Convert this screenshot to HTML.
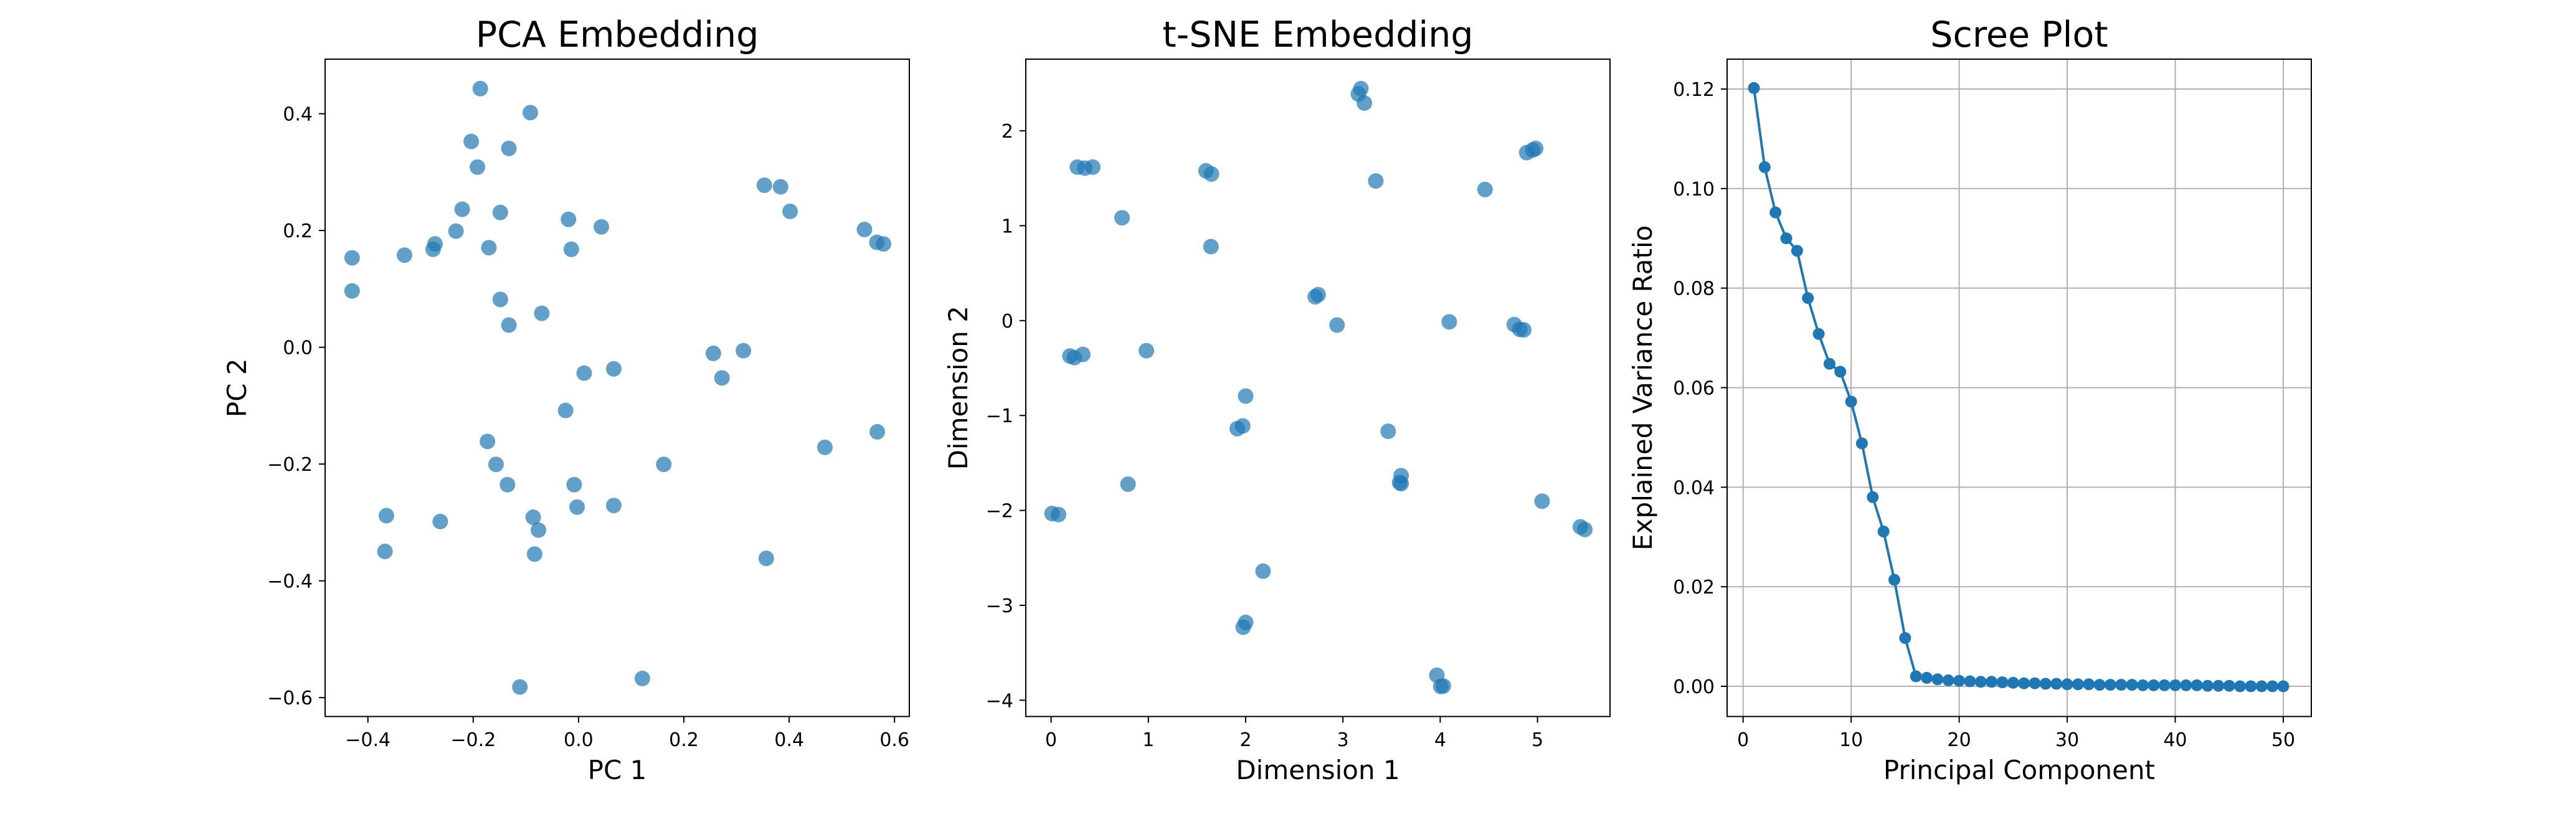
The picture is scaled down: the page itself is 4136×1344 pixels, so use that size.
<!DOCTYPE html>
<html><head><meta charset="utf-8"><style>
html,body{margin:0;padding:0;background:#fff;}
svg{display:block;font-family:"DejaVu Sans","Liberation Sans",sans-serif;}
</style></head><body>
<svg id="s" width="4136" height="1344" xmlns="http://www.w3.org/2000/svg"></svg>
<script>
(function(){
const s=document.getElementById('s');let h='';
const T=(x,y,t,sz,anc,extra)=>{h+=`<text x="${x}" y="${y}" font-size="${sz}" text-anchor="${anc||'middle'}" fill="#000" ${extra||''}>${t}</text>`;};
const L=(x1,y1,x2,y2,c,w)=>{h+=`<line x1="${x1}" y1="${y1}" x2="${x2}" y2="${y2}" stroke="${c}" stroke-width="${w}"/>`;};
const TOP=95,BOT=1150.5;
const fmt=v=>v<0?'−'+String(-v):String(v);
function axes(l,r,title,xl,yl,ylx,xt,yt){
  T((l+r)/2,75,title,57);
  T((l+r)/2,1251,xl,42);
  T(0,0,yl,42,'middle',`transform="translate(${ylx},${(TOP+BOT)/2}) rotate(-90)"`);
  xt.forEach(([px,lab])=>{L(px,BOT,px,BOT+10,'#000',2);T(px,1198,lab,30);});
  yt.forEach(([py,lab])=>{L(l-10,py,l,py,'#000',2);T(l-20,py+11,lab,30,'end');});
}
function frame(l,r){h+=`<rect x="${l}" y="${TOP}" width="${r-l}" height="${BOT-TOP}" fill="none" stroke="#000" stroke-width="2"/>`;}
// PCA
{const l=522,r=1460;
 const xp=v=>590.7+(v+0.4)*845.5, yp=v=>182.6+(0.4-v)*937.6;
 const yt=[0.4,0.2,0,-0.2,-0.4,-0.6].map(v=>[yp(v),(v<0?'−':'')+Math.abs(v).toFixed(1)]);
 const xt=[-0.4,-0.2,0,0.2,0.4,0.6].map(v=>[xp(v),(v<0?'−':'')+Math.abs(v).toFixed(1)]);
 axes(l,r,'PCA Embedding','PC 1','PC 2',395,xt,yt);
 const P=[[485,166],[590,211],[466,265],[545,278],[479,313],[1081,347],[1115,350],[1135,396],[447,392],[527,398],[670,411],[739,425],[434,433],[1291,430],[1317,454],[1331,457],[390,457],[386,467],[503,464],[676,467],[216,483],[326,478],[216,545],[527,561],[614,587],[545,609],[974,662],[1037,657],[992,708],[703,699],[765,691],[664,769],[1318,809],[1208,838],[500,827],[518,870],[870,870],[542,908],[682,908],[688,950],[765,947],[288,966],[401,977],[596,969],[607,993],[285,1033],[599,1038],[1085,1046],[825,1271],[568,1287]];
 P.forEach(([zx,zy])=>{h+=`<circle cx="${400+zx/1.3067}" cy="${zy/1.1667}" r="12.5" fill="#1f77b4" fill-opacity="0.7"/>`;});
 frame(l,r);}
// t-SNE
{const l=1647,r=2585;
 const xp=v=>1687.6+v*156.2, yp=v=>210+(2-v)*152.4;
 const xt=[0,1,2,3,4,5].map(v=>[xp(v),String(v)]);
 const yt=[2,1,0,-1,-2,-3,-4].map(v=>[yp(v),fmt(v)]);
 axes(l,r,'t-SNE Embedding','Dimension 1','Dimension 2',1553,xt,yt);
 const P=[[922,166],[917,176],[929,193],[351,313],[366,315],[382,313],[610,320],[621,326],[952,339],[1256,286],[1268,281],[1274,278],[1172,355],[441,408],[620,462],[830,556],[836,552],[874,609],[1100,603],[1231,608],[1242,617],[1250,618],[336,667],[345,670],[362,664],[490,657],[690,742],[673,803],[684,798],[977,808],[1003,891],[1000,904],[1003,906],[453,907],[1287,939],[300,962],[313,964],[1364,987],[1373,992],[725,1070],[685,1175],[690,1166],[1075,1265],[1083,1286],[1088,1285]];
 P.forEach(([zx,zy])=>{h+=`<circle cx="${1450+zx/1.2544}" cy="${zy/1.1667}" r="12.5" fill="#1f77b4" fill-opacity="0.7"/>`;});
 frame(l,r);}
// Scree
{const l=2773,r=3711;
 const xp=v=>2798.7+v*17.346, yp=v=>1102-v*7992;
 const xv=[0,10,20,30,40,50], yv=[0,0.02,0.04,0.06,0.08,0.10,0.12];
 xv.forEach(v=>L(xp(v),TOP,xp(v),BOT,'#b0b0b0',2));
 yv.forEach(v=>L(l,yp(v),r,yp(v),'#b0b0b0',2));
 axes(l,r,'Scree Plot','Principal Component','Explained Variance Ratio',2652,xv.map(v=>[xp(v),String(v)]),yv.map(v=>[yp(v),v.toFixed(2)]));
 const V=[0.1202,0.1043,0.0952,0.0900,0.0875,0.0780,0.0708,0.0648,0.0632,0.0572,0.0488,0.0380,0.0311,0.0214,0.0097,0.0020,0.0017,0.0014,0.0012,0.0011,0.0010,0.0009,0.0009,0.0008,0.0007,0.0006,0.0006,0.0005,0.0005,0.0004,0.0004,0.0004,0.0003,0.0003,0.0003,0.0003,0.0002,0.0002,0.0002,0.0002,0.0002,0.0002,0.0001,0.0001,0.0001,0,0,0,0,0];
 h+=`<polyline fill="none" stroke="#1f77b4" stroke-width="4" points="${V.map((v,i)=>xp(i+1)+','+yp(v)).join(' ')}"/>`;
 V.forEach((v,i)=>{h+=`<circle cx="${xp(i+1)}" cy="${yp(v)}" r="9.5" fill="#1f77b4"/>`;});
 frame(l,r);}
s.innerHTML=h;
})();
</script>
</body></html>
